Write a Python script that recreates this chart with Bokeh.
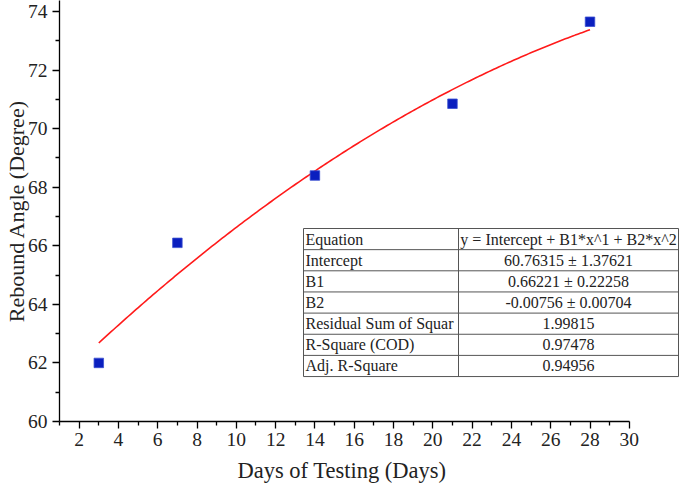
from bokeh.plotting import figure
from bokeh.models import FixedTicker, Range1d, Title
from bokeh.core.properties import value
from bokeh.embed import file_html
from bokeh.resources import INLINE
import numpy as np

# Measured rebound angle by day of testing
days = [3, 7, 14, 21, 28]
rebound_angle = [62.0, 66.1, 68.4, 70.85, 73.65]

# Quadratic fit coefficients (from the fit report table)
intercept = 60.76315
b1 = 0.66221
b2 = -0.00756

x_ticks = list(range(2, 31, 2))
x_minor = list(range(1, 31, 2))
y_ticks = list(range(60, 75, 2))
y_minor = list(range(61, 75, 2))

table_rows = [
    ["Equation", "y = Intercept + B1*x^1 + B2*x^2"],
    ["Intercept", "60.76315 \u00b1 1.37621"],
    ["B1", "0.66221 \u00b1 0.22258"],
    ["B2", "-0.00756 \u00b1 0.00704"],
    ["Residual Sum of Squar", "1.99815"],
    ["R-Square (COD)", "0.97478"],
    ["Adj. R-Square", "0.94956"],
]

FONT = "Liberation Serif"

W, H = 685, 489
LEFT, BOTTOM = 59, 68
X0, X1 = 1, 32.86
Y0, Y1 = 60, 74.376

p = figure(width=W, height=H, output_backend="svg", toolbar_location=None,
           x_range=Range1d(X0, X1), y_range=Range1d(Y0, Y1),
           min_border_left=LEFT, min_border_bottom=BOTTOM,
           min_border_top=0, min_border_right=0)
p.outline_line_color = None
p.grid.visible = False
p.background_fill_color = "white"
p.border_fill_color = "white"

# frame size in pixels, for placing the table
fw = W - LEFT
fh = H - BOTTOM


def dx(px):
    return X0 + (px - LEFT) / fw * (X1 - X0)


def dy(py):
    return Y0 + (fh - py) / fh * (Y1 - Y0)


# Fitted curve
xs = np.linspace(min(days), max(days), 200)
ys = intercept + b1 * xs + b2 * xs ** 2
p.line(xs, ys, line_color="#ff1a1a", line_width=1.6)

# Data points
p.scatter(days, rebound_angle, marker="square", size=9.5,
          fill_color="#0a1fbf", line_color="#3a4fd0", line_width=0.8)

# Axes
xa = p.xaxis[0]
xa.ticker = FixedTicker(ticks=x_ticks, minor_ticks=x_minor)
xa.bounds = (1, 30)
ya = p.yaxis[0]
ya.ticker = FixedTicker(ticks=y_ticks, minor_ticks=y_minor)
for ax in (xa, ya):
    ax.axis_line_color = "black"
    ax.axis_line_width = 1.3
    ax.major_tick_line_color = "black"
    ax.major_tick_line_width = 1.3
    ax.minor_tick_line_color = "black"
    ax.minor_tick_line_width = 1.3
    ax.major_tick_out = 7
    ax.major_tick_in = 0
    ax.minor_tick_out = 4
    ax.minor_tick_in = 0
    ax.major_label_text_font = FONT
    ax.major_label_text_font_size = "19.5px"
    ax.major_label_text_color = "#222222"
    ax.axis_label_text_font = FONT
    ax.axis_label_text_font_size = "22px"
    ax.axis_label_text_font_style = "normal"
    ax.axis_label_text_color = "#222222"
    ax.major_label_standoff = 4

ya.major_label_standoff = 5
ya.axis_label = "Rebound Angle (Degree)"
ya.axis_label_standoff = -4

# x axis title, centred under the bounded axis (1..30)
p.add_layout(Title(text="Days of Testing (Days)", align="left", offset=178,
                   text_font=FONT, text_font_size="22.5px", text_font_style="normal",
                   text_color="#222222", standoff=14), "below")

# Fit report table
t_left, t_mid, t_right = 303, 458, 678
t_top, row_h = 228, 21.15
n = len(table_rows)
t_bottom = t_top + n * row_h
p.quad(left=[dx(t_left)], right=[dx(t_right)], top=[dy(t_top)], bottom=[dy(t_bottom)],
       fill_color="white", line_color="#555555", line_width=1)
hy = [dy(t_top + i * row_h) for i in range(1, n)]
p.segment(x0=[dx(t_left)] * len(hy), x1=[dx(t_right)] * len(hy), y0=hy, y1=hy,
          line_color="#555555", line_width=1)
p.segment(x0=[dx(t_mid)], x1=[dx(t_mid)], y0=[dy(t_top)], y1=[dy(t_bottom)],
          line_color="#555555", line_width=1)

row_y = [dy(t_top + (i + 0.5) * row_h) for i in range(n)]
p.text(x=[dx(t_left + 2)] * n, y=row_y, text=[r[0] for r in table_rows],
       text_font=value(FONT), text_font_size="16px", text_color="#222222",
       text_align="left", text_baseline="middle")
p.text(x=[dx((t_mid + t_right) / 2)] * n, y=row_y, text=[r[1] for r in table_rows],
       text_font=value(FONT), text_font_size="16px", text_color="#222222",
       text_align="center", text_baseline="middle")

open("out.html", "w").write(file_html(p, INLINE))
